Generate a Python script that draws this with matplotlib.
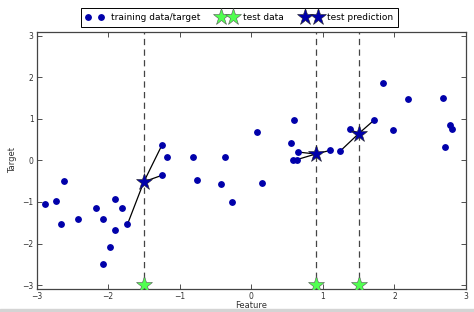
import numpy as np
import matplotlib
matplotlib.use('Agg')
import matplotlib.pyplot as plt

# training data
x_train = [-2.88, -2.73, -2.62, -2.66, -2.42, -2.17, -2.07, -2.07, -1.98, -1.90,
           -1.91, -1.80, -1.73, -1.25, -1.25, -1.18, -0.81, -0.76, -0.37, -0.42,
           -0.27, 0.08, 0.15, 0.60, 0.55, 0.66, 0.58, 0.64, 1.10, 1.24,
           1.38, 1.71, 1.84, 1.98, 2.19, 2.68, 2.70, 2.78, 2.81]
y_train = [-1.06, -0.98, -0.50, -1.54, -1.42, -1.14, -1.40, -2.48, -2.09, -0.92,
           -1.68, -1.14, -1.54, -0.36, 0.36, 0.08, 0.08, -0.46, 0.08, -0.56,
           -1.00, 0.68, -0.54, 0.98, 0.42, 0.20, 0.02, 0.02, 0.24, 0.22,
           0.75, 0.96, 1.86, 0.74, 1.48, 1.51, 0.32, 0.85, 0.75]
x_test = [-1.5, 0.9, 1.5]
n_neighbors = 3

navy = '#0000aa'
green = '#50ff50'

xt = np.array(x_train)
yt = np.array(y_train)

fig = plt.figure(figsize=(4.74, 3.12), dpi=100)
ax = fig.add_axes([36.5 / 474, (312 - 289.3) / 312, (466 - 36.5) / 474, (289.3 - 31.5) / 312])

y_pred = []
for x in x_test:
  # nearest neighbours -> mean target
  idx = np.argsort(np.abs(xt - x))[:n_neighbors]
  yp = yt[idx].mean()
  y_pred.append(yp)
  for i in idx:
    ax.plot([x, xt[i]], [yp, yt[i]], color='k', lw=0.9, zorder=2)

train, = ax.plot(xt, yt, 'o', color=navy, markersize=3.9, markeredgecolor=navy, zorder=3)
test, = ax.plot(x_test, [-3] * len(x_test), '*', color=green, markersize=12.5,
                markeredgecolor='#555555', markeredgewidth=0.4, zorder=4)
pred, = ax.plot(x_test, y_pred, '*', color=navy, markersize=12.5,
                markeredgecolor='#222222', markeredgewidth=0.4, zorder=4)
ax.vlines(x_test, -3.1, 3.1, linestyle=(0, (5, 3.5)), color='#444444', lw=0.9, zorder=1)

ax.set_xlim(-3, 3)
ax.set_ylim(-3.1, 3.1)
ax.set_xticks(range(-3, 4))
ax.set_yticks(range(-3, 4))
ax.tick_params(direction='in', top=True, right=True, length=3.5, width=0.6,
               labelsize=5.5, pad=2, colors='#333333', labelcolor='#333333')
for s in ax.spines.values():
  s.set_linewidth(0.9)
  s.set_color('#444444')
ax.set_xlabel('Feature', fontsize=6, labelpad=0, color='#333333')
ax.set_ylabel('Target', fontsize=6, labelpad=4, color='#333333')

leg = fig.legend([train, test, pred],
                 ['training data/target', 'test data', 'test prediction'],
                 ncol=3, loc='center', bbox_to_anchor=(239.5 / 474, 1 - 17.5 / 312),
                 numpoints=2, fontsize=6.5, fancybox=False, framealpha=1,
                 edgecolor='k', handlelength=2.0, handletextpad=0.8,
                 columnspacing=2.0, borderpad=0.5, borderaxespad=0)
leg.get_frame().set_linewidth(0.7)

# grey strip at bottom of the screenshot
fig.patches.append(plt.Rectangle((0, 0), 1, 3 / 312, transform=fig.transFigure,
                                 color='#d4d4d4', zorder=0))

fig.savefig('out.png', dpi=100)
